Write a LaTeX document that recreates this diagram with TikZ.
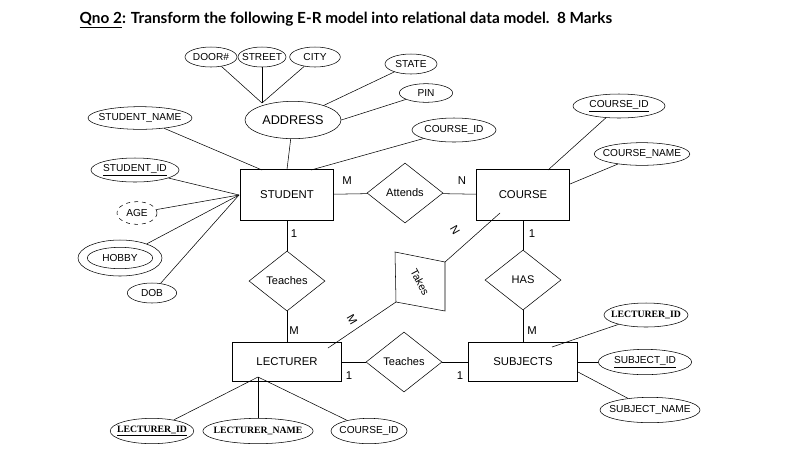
\documentclass[tikz,border=0pt]{standalone}
\usepackage{fontspec}
\setmainfont{Liberation Sans}
\newfontfamily\lato{Lato}
\newfontfamily\tnr{Liberation Serif}
\usetikzlibrary{shapes.geometric}
\begin{document}
\begin{tikzpicture}[x=0.75pt,y=-0.75pt,font=\fontsize{7.6}{9}\selectfont,
 att/.style={draw,ellipse,inner xsep=-4pt,inner ysep=-1pt},
 ent/.style={draw,rectangle,minimum width=70pt,minimum height=38pt,font=\fontsize{8.5}{10}\selectfont},
 ent2/.style={draw,rectangle,minimum width=82pt,minimum height=29pt,font=\fontsize{8.5}{10}\selectfont},
 rel/.style={draw,diamond,aspect=1.25,inner sep=1pt,minimum width=57pt,minimum height=45pt,font=\fontsize{8.3}{10}\selectfont},
 bs/.style={font=\tnr\bfseries\fontsize{7.3}{9}\selectfont},
 lbl/.style={inner sep=0pt,font=\fontsize{8.5}{10}\selectfont}]
\useasboundingbox (0,0) rectangle (812,455);
\node[anchor=west,font=\lato\bfseries\fontsize{11.5}{13}\selectfont] (title) at (75,20) {\underline{Qno 2}: Transform the following E-R model into relational data model.\ \ 8 Marks};
% entities
\node[ent] (stu) at (287,195) {STUDENT};
\node[ent] (crs) at (523,195) {COURSE};
\node[ent2] (lec) at (287,362) {LECTURER};
\node[ent2] (sub) at (523,362) {SUBJECTS};
% relationships
\node[rel] (att) at (405,193) {Attends};
\node[rel] (tch) at (287,281) {Teaches};
\node[rel] (has) at (523,280) {HAS};
\node[rel] (tch2) at (404,362) {Teaches};
\coordinate (tk1) at (395,252); \coordinate (tk2) at (445,262);
\coordinate (tk3) at (445,311); \coordinate (tk4) at (396,302);
\draw (tk1) -- (tk2) -- (tk3) -- (tk4) -- cycle;
\node[rotate=-62,inner sep=0pt,font=\fontsize{8}{10}\selectfont] (tk) at (420,282) {Takes};
% attributes
\node[att,minimum width=39pt,minimum height=15pt] (door) at (211,57) {DOOR\#};
\node[att,minimum width=36pt,minimum height=15pt] (street) at (262,57) {STREET};
\node[att,minimum width=38pt,minimum height=15pt] (city) at (315,57) {CITY};
\node[att,minimum width=39pt,minimum height=15pt] (state) at (411,64) {STATE};
\node[att,minimum width=40pt,minimum height=14pt] (pin) at (426,93) {PIN};
\node[att,minimum width=72pt,minimum height=28pt,font=\fontsize{9.5}{11}\selectfont] (addr) at (293,120) {ADDRESS};
\node[att,minimum width=78pt,minimum height=17pt] (sname) at (140,118) {STUDENT\_NAME};
\node[att,minimum width=63pt,minimum height=18pt] (scid) at (454,130) {COURSE\_ID};
\node[att,minimum width=66pt,minimum height=18pt] (sid) at (135,170) {\underline{STUDENT\_ID}};
\node[att,dashed,minimum width=30pt,minimum height=17pt] (age) at (137,213) {AGE};
\node[att,minimum width=63pt,minimum height=27pt] (hob) at (120,258) {};
\node[att,minimum width=49pt,minimum height=16pt] (hobi) at (120,258) {HOBBY};
\node[att,minimum width=37pt,minimum height=15pt] (dob) at (152,293) {DOB};
\node[att,minimum width=69pt,minimum height=18pt] (cid) at (619,106) {\underline{COURSE\_ID}};
\node[att,minimum width=69pt,minimum height=17pt] (cname) at (642,154) {COURSE\_NAME};
\node[att,bs,minimum width=63pt,minimum height=18pt] (slid) at (646,315) {LECTURER\_ID};
\node[att,minimum width=70pt,minimum height=19pt] (subid) at (645,362) {\underline{SUBJECT\_ID}};
\node[att,minimum width=75pt,minimum height=19pt] (subn) at (650,410) {SUBJECT\_NAME};
\node[att,bs,minimum width=62pt,minimum height=19pt] (lid) at (152,431) {\underline{LECTURER\_ID}};
\node[att,bs,minimum width=78pt,minimum height=19pt] (lname) at (258,431) {LECTURER\_NAME};
\node[att,minimum width=57pt,minimum height=19pt] (lcid) at (369,431) {COURSE\_ID};
% attribute lines
\coordinate (ap) at (262,103);
\draw (door) -- (ap); \draw (street) -- (ap); \draw (city) -- (ap);
\draw (state) -- (addr); \draw (pin) -- (addr.east);
\draw (addr) -- (stu.north);
\coordinate (sn) at (262,170); \coordinate (sc) at (311,170);
\draw (sname) -- (sn); \draw (scid) -- (sc);
\coordinate (sl) at (239,195);
\draw (sid) -- (sl); \draw (age) -- (sl); \draw (hob) -- (sl); \draw (dob) -- (sl);
\coordinate (cc) at (548,170); \coordinate (cn) at (570,184);
\draw (cid) -- (cc); \draw (cname) -- (cn);
\coordinate (sl1) at (552,347); \coordinate (sn1) at (578,372);
\draw (slid) -- (sl1); \draw (subid) -- (sub.east); \draw (subn) -- (sn1);
\coordinate (lb) at (258,377);
\draw (lid) -- (lb); \draw (lname) -- (lb); \draw (lcid) -- (lb);
% relationship lines
\draw (stu) -- (att); \draw (att) -- (crs);
\draw (stu) -- (tch); \draw (tch) -- (lec);
\draw (crs) -- (has); \draw (has) -- (sub);
\draw (lec) -- (tch2); \draw (tch2) -- (sub);
\coordinate (cb) at (500,213); \coordinate (lt) at (328,348);
\draw (cb) -- (tk2); \draw (tk4) -- (lt);
% cardinalities
\node[lbl] (c1) at (347,181) {M}; \node[lbl] (c2) at (462,181) {N};
\node[lbl] (c3) at (294,234) {1}; \node[lbl] (c4) at (532,234) {1};
\node[lbl,rotate=-60] (c5) at (455,230) {N}; \node[lbl,rotate=-60] (c6) at (352,320) {M};
\node[lbl] (c7) at (294,331) {M}; \node[lbl] (c8) at (349,376) {1};
\node[lbl] (c9) at (460,376) {1}; \node[lbl] (c10) at (532,331) {M};
\end{tikzpicture}
\end{document}
